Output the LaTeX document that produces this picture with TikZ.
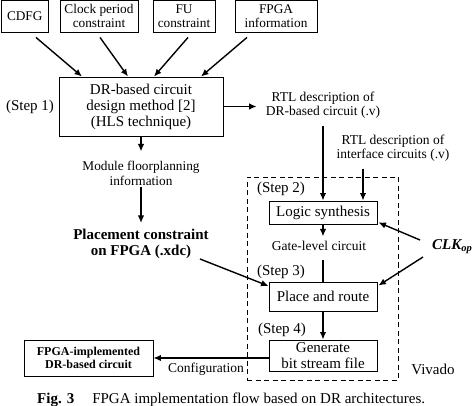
\documentclass[tikz,border=0pt]{standalone}
\usepackage{fontspec}
\setmainfont{Liberation Serif}
\usetikzlibrary{arrows.meta,calc}
\newcommand\fszTop{\fontsize{13.3}{14}\selectfont}
\newcommand\fszLab{\fontsize{13.5}{14.5}\selectfont}
\newcommand\fszMod{\fontsize{13.3}{15}\selectfont}
\newcommand\fszBox{\fontsize{15}{16}\selectfont}
\newcommand\fszImp{\fontsize{12}{13.5}\selectfont}
\tikzset{
  box/.style={draw, line width=0.9pt, inner sep=0pt, align=center},
  topbox/.style={box, font=\fszTop, minimum height=31.5pt},
  stepbox/.style={box, font=\fszBox, minimum width=108pt},
  lab/.style={inner sep=0pt, align=center, font=\fszLab},
  steplab/.style={inner sep=0pt, font=\fszBox},
  arr/.style={line width=1.4pt, -{Latex[length=7.5pt,width=6.5pt]}},
  plain/.style={line width=1.4pt},
  dbox/.style={draw, line width=0.9pt, dash pattern=on 5pt off 3.5pt, inner sep=0pt}
}
\begin{document}
\begin{tikzpicture}[x=1pt,y=-1pt]
\useasboundingbox (0,0) rectangle (474,406);
% top inputs
\node[topbox, minimum width=46.5pt] (cdfg) at (24.75,16.25) {CDFG};
\node[topbox, minimum width=78pt] (clk) at (99,16.25) {Clock period\\constraint};
\node[topbox, minimum width=62pt] (fu) at (184,16.25) {FU\\constraint};
\node[topbox, minimum width=82pt] (fpga) at (276,16.25) {FPGA\\information};
% step 1
\node[box, font=\fszBox, minimum width=164pt, minimum height=59pt] (dr) at (141,106.5)
  {DR-based circuit\\design method [2]\\(HLS technique)};
\node[steplab] (s1) at (30,107) {(Step 1)};
\node[lab] (rtldr) at (323,105) {RTL description of\\DR-based circuit (.v)};
\node[lab] (rtlif) at (393,148) {RTL description of\\interface circuits (.v)};
\node[lab, font=\fszMod] (mod) at (141,173.5) {Module floorplanning\\information};
\node[inner sep=0pt, align=center, font=\fszBox\bfseries] (plc) at (141,244)
  {Placement constraint\\on FPGA (.xdc)};
% Vivado region
\node[dbox, minimum width=151pt, minimum height=203pt] (viv) at (322.5,278.5) {};
\node[steplab] (vivlab) at (433,369) {Vivado};
\node[steplab] (s2) at (281,189) {(Step 2)};
\node[stepbox, minimum height=23pt] (ls) at (323,212.5) {Logic synthesis};
\node[lab] (gate) at (319,246) {Gate-level circuit};
\node[steplab] (s3) at (281,272) {(Step 3)};
\node[stepbox, minimum height=29pt] (pr) at (323,296.5) {Place and route};
\node[steplab] (s4) at (282,330) {(Step 4)};
\node[stepbox, minimum height=31pt] (gen) at (323,355.5) {Generate\\bit stream file};
\node[box, font=\fszImp\bfseries, minimum width=129pt, minimum height=36pt] (impl) at (88.5,358)
  {FPGA-implemented\\DR-based circuit};
\node[lab] (conf) at (206,369) {Configuration};
\node[inner sep=0pt, anchor=west, font=\fszBox\bfseries\itshape] (clkop) at (432,247)
  {CLK\textsubscript{op}};
% caption
\node[inner sep=0pt, anchor=base west, font=\fszBox] (cap) at (37,403)
  {\textbf{Fig. 3}\hspace{18pt}FPGA implementation flow based on DR architectures.};
% connectors
\draw[arr] ([xshift=11.25pt,yshift=-5pt]cdfg.south) -- ([xshift=-59pt]dr.north);
\draw[arr] ([xshift=1pt,yshift=-5pt]clk.south) -- ([xshift=-13pt]dr.north);
\draw[arr] ([xshift=4pt,yshift=-5pt]fu.south) -- ([xshift=13pt]dr.north);
\draw[arr] ([xshift=-29pt,yshift=-5pt]fpga.south) -- ([xshift=60pt]dr.north);
\draw[arr] (dr.east) -- (dr.east -| {$(rtldr.west)+(-9,0)$});
\draw[arr] (dr.south) -- ([yshift=-15pt]dr.south);
\draw[arr] ([yshift=-1pt]mod.south -| dr.south) -- ([yshift=6pt]plc.north -| dr.south);
\draw[arr] ([yshift=-7pt]rtldr.south) -- (ls.north);
\draw[arr] ([yshift=-7pt]rtlif.south -| 363,0) -- (ls.north -| 363,0);
\draw[arr] (ls.south) -- ([yshift=-12pt]ls.south);
\draw[plain] ([yshift=-9pt]gate.south -| ls.south) -- (pr.north);
\draw[arr] ([xshift=59pt,yshift=0pt]plc.south) -- ([yshift=10.5pt]pr.west);
\draw[arr] ([xshift=-12pt,yshift=7pt]clkop.west) -- ([xshift=1pt,yshift=2pt]ls.south east);
\draw[arr] ([xshift=-9pt,yshift=-10pt]clkop.west) -- ([xshift=1pt,yshift=-4pt]pr.north east);
\draw[arr] (pr.south) -- (gen.north);
\draw[arr] ([yshift=-2.5pt]gen.west) -- (impl.east);
\end{tikzpicture}
\end{document}
